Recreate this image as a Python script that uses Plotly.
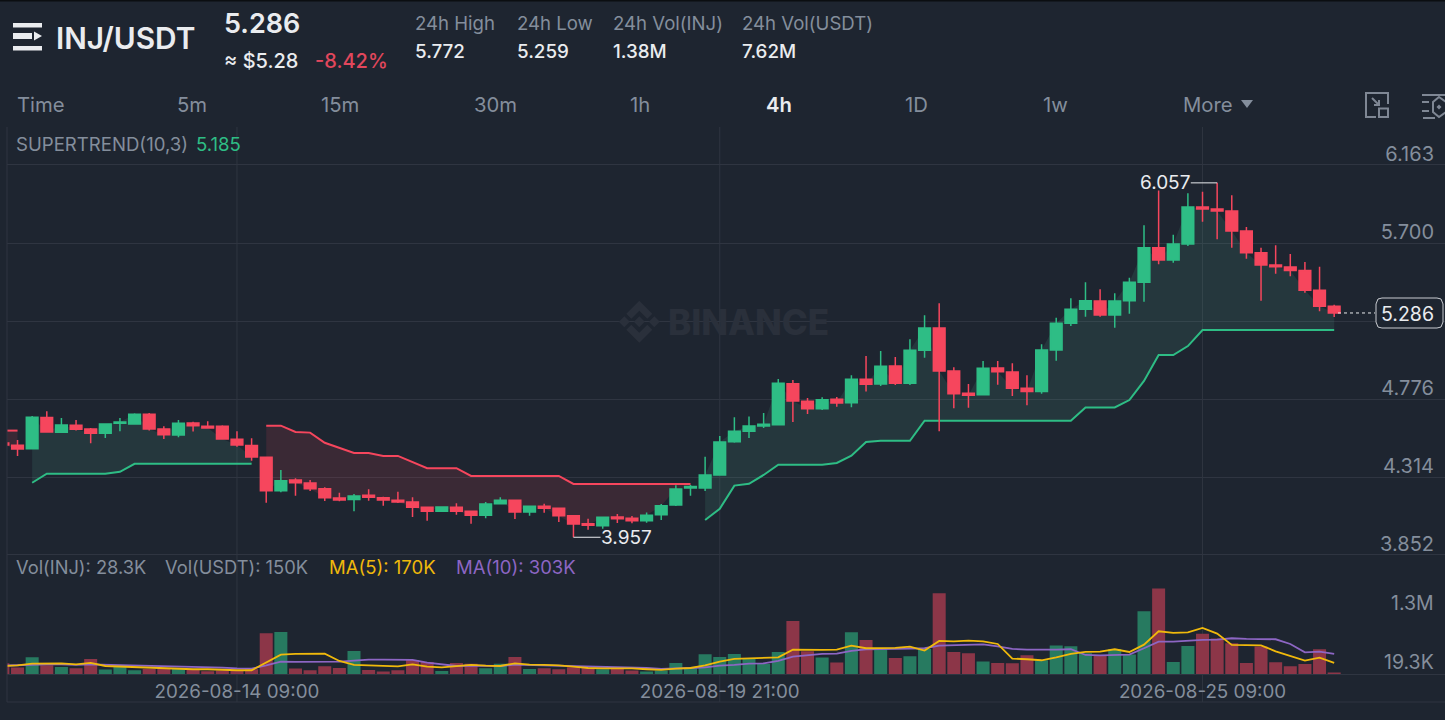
# plot.py - INJ/USDT 4h chart with supertrend and volume panes
import pandas as pd
import plotly.graph_objects as go

W, H = 1445, 720
BG = "#1e2530"
GRID = "#2f3541"
GREY = "#848e9c"
WHITE = "#eaecef"
UP = "#2ebd85"
DOWN = "#f6465d"
FONT = "Inter"

# candles, one every 4h
start = "2026-08-11 17:00"
opens = [4.515, 4.502, 4.482, 4.666, 4.579, 4.620, 4.599, 4.573, 4.632, 4.628,
         4.686, 4.599, 4.563, 4.634, 4.615, 4.615, 4.538, 4.500, 4.431, 4.233,
         4.296, 4.279, 4.245, 4.190, 4.181, 4.206, 4.191, 4.176, 4.166, 4.135,
         4.111, 4.135, 4.111, 4.087, 4.156, 4.176, 4.107, 4.140, 4.129, 4.085,
         4.037, 4.025, 4.077, 4.069, 4.055, 4.091, 4.148, 4.249, 4.249, 4.326,
         4.523, 4.585, 4.616, 4.624, 4.867, 4.763, 4.719, 4.775, 4.754, 4.893,
         4.865, 4.972, 4.869, 5.065, 5.197, 4.942, 4.810, 4.802, 4.960, 4.936,
         4.840, 4.820, 5.067, 5.225, 5.308, 5.357, 5.274, 5.359, 5.468, 5.673,
         5.600, 5.695, 5.914, 5.902, 5.890, 5.772, 5.643, 5.570, 5.558, 5.537,
         5.420, 5.326]
highs = [4.530, 4.533, 4.676, 4.703, 4.664, 4.652, 4.605, 4.632, 4.664, 4.692,
         4.693, 4.615, 4.652, 4.642, 4.644, 4.620, 4.585, 4.543, 4.431, 4.356,
         4.306, 4.296, 4.253, 4.221, 4.213, 4.241, 4.197, 4.227, 4.194, 4.138,
         4.140, 4.158, 4.114, 4.166, 4.194, 4.178, 4.142, 4.156, 4.129, 4.089,
         4.067, 4.079, 4.095, 4.083, 4.103, 4.154, 4.265, 4.267, 4.434, 4.557,
         4.668, 4.672, 4.693, 4.895, 4.889, 4.782, 4.786, 4.788, 4.917, 5.031,
         5.061, 5.025, 5.130, 5.272, 5.343, 4.964, 4.865, 5.002, 5.002, 4.988,
         4.917, 5.100, 5.258, 5.373, 5.468, 5.426, 5.403, 5.495, 5.806, 6.011,
         5.750, 5.995, 6.005, 6.057, 5.983, 5.796, 5.673, 5.687, 5.636, 5.588,
         5.560, 5.335]
lows = [4.495, 4.439, 4.482, 4.577, 4.579, 4.589, 4.514, 4.545, 4.585, 4.628,
        4.589, 4.539, 4.549, 4.583, 4.605, 4.535, 4.494, 4.411, 4.162, 4.223,
        4.203, 4.231, 4.172, 4.170, 4.111, 4.174, 4.144, 4.160, 4.077, 4.055,
        4.107, 4.091, 4.037, 4.069, 4.154, 4.065, 4.085, 4.102, 4.047, 3.957,
        4.002, 4.008, 4.041, 4.040, 4.043, 4.059, 4.142, 4.203, 4.231, 4.326,
        4.517, 4.545, 4.605, 4.624, 4.640, 4.687, 4.711, 4.731, 4.727, 4.820,
        4.853, 4.859, 4.859, 5.021, 4.585, 4.721, 4.725, 4.802, 4.861, 4.794,
        4.739, 4.808, 5.003, 5.209, 5.264, 5.264, 5.199, 5.282, 5.353, 5.575,
        5.584, 5.683, 5.827, 5.723, 5.673, 5.608, 5.359, 5.519, 5.503, 5.406,
        5.296, 5.262]
closes = [4.504, 4.480, 4.668, 4.581, 4.622, 4.597, 4.573, 4.628, 4.640, 4.686,
          4.599, 4.565, 4.632, 4.618, 4.605, 4.539, 4.504, 4.433, 4.233, 4.292,
          4.280, 4.245, 4.191, 4.178, 4.202, 4.194, 4.178, 4.166, 4.135, 4.111,
          4.136, 4.111, 4.087, 4.154, 4.176, 4.107, 4.140, 4.129, 4.085, 4.036,
          4.028, 4.075, 4.067, 4.055, 4.087, 4.144, 4.243, 4.257, 4.326, 4.521,
          4.585, 4.616, 4.626, 4.869, 4.764, 4.719, 4.772, 4.753, 4.893, 4.863,
          4.970, 4.869, 5.065, 5.197, 4.942, 4.808, 4.798, 4.958, 4.938, 4.840,
          4.820, 5.067, 5.225, 5.308, 5.359, 5.274, 5.357, 5.468, 5.673, 5.600,
          5.695, 5.914, 5.902, 5.890, 5.772, 5.643, 5.570, 5.560, 5.537, 5.420,
          5.326, 5.286]

# supertrend, N = no line on that side
N = None
st_down = [4.589, 4.589, N, N, N, N, N, N, N, N,
           N, N, N, N, N, N, N, N, 4.618, 4.618,
           4.581, 4.577, 4.517, 4.488, 4.456, 4.456, 4.439, 4.439, 4.403, 4.366,
           4.366, 4.366, 4.320, 4.320, 4.320, 4.320, 4.320, 4.320, 4.320, 4.273,
           4.273, 4.273, 4.273, 4.273, 4.273, 4.273, 4.273, 4.273, N, N,
           N, N, N, N, N, N, N, N, N, N,
           N, N, N, N, N, N, N, N, N, N,
           N, N, N, N, N, N, N, N, N, N,
           N, N, N, N, N, N, N, N, N, N,
           N, N]
st_up = [N, N, 4.280, 4.334, 4.334, 4.334, 4.334, 4.334, 4.345, 4.392,
         4.392, 4.392, 4.392, 4.392, 4.392, 4.392, 4.392, 4.392, N, N,
         N, N, N, N, N, N, N, N, N, N,
         N, N, N, N, N, N, N, N, N, N,
         N, N, N, N, N, N, N, N, 4.059, 4.125,
         4.263, 4.274, 4.326, 4.387, 4.387, 4.387, 4.387, 4.397, 4.440, 4.521,
         4.529, 4.529, 4.529, 4.648, 4.648, 4.648, 4.648, 4.648, 4.648, 4.648,
         4.648, 4.648, 4.648, 4.648, 4.726, 4.726, 4.726, 4.770, 4.883, 5.037,
         5.037, 5.090, 5.185, 5.185, 5.185, 5.185, 5.185, 5.185, 5.185, 5.185,
         5.185, 5.185]

# volume pane, in thousands of INJ
volume = [164, 100, 253, 134, 109, 89, 228, 70, 109, 60,
          79, 89, 79, 64, 45, 55, 49, 75, 611, 630,
          85, 60, 119, 94, 347, 64, 40, 60, 213, 183,
          49, 168, 159, 89, 159, 258, 79, 89, 75, 104,
          89, 75, 85, 55, 40, 55, 168, 94, 298, 258,
          302, 228, 153, 332, 794, 343, 249, 174, 626, 511,
          387, 243, 268, 377, 1207, 332, 313, 189, 168, 164,
          283, 209, 428, 417, 313, 283, 377, 294, 939, 1277,
          183, 422, 606, 532, 462, 168, 413, 179, 119, 153,
          373, 28.3]
ma5 = [124, 134, 159, 164, 164, 149, 169, 124, 114, 104,
       99, 84, 84, 75, 75, 65, 60, 60, 174, 293,
       303, 303, 308, 199, 139, 134, 124, 119, 149, 114,
       104, 124, 139, 129, 124, 164, 144, 139, 134, 114,
       94, 89, 94, 89, 75, 65, 84, 94, 134, 189,
       229, 239, 244, 253, 368, 363, 363, 368, 427, 388,
       388, 393, 413, 353, 497, 492, 502, 492, 452, 234,
       224, 209, 253, 303, 333, 338, 373, 333, 442, 641,
       616, 626, 691, 606, 437, 437, 432, 343, 268, 204,
       249, 170]
ma10 = [129, 139, 149, 149, 149, 139, 149, 144, 144, 139,
        134, 124, 114, 109, 104, 99, 89, 84, 134, 189,
        184, 184, 184, 189, 204, 219, 219, 219, 214, 174,
        154, 124, 129, 129, 124, 144, 139, 139, 134, 124,
        124, 119, 114, 109, 94, 80, 84, 94, 104, 129,
        139, 159, 164, 199, 263, 288, 303, 308, 348, 373,
        378, 383, 388, 388, 427, 437, 447, 447, 417, 378,
        368, 363, 368, 373, 288, 283, 288, 293, 388, 487,
        487, 502, 512, 517, 537, 527, 527, 522, 452, 328,
        338, 303]

price_ticks = [6.163, 5.700, 5.238, 4.776, 4.314, 3.852]
# 5.238 sits behind the last price tag in the original
price_labels = ["6.163", "5.700", "", "4.776", "4.314", "3.852"]
date_ticks = ["2026-08-14 09:00", "2026-08-19 21:00", "2026-08-25 09:00"]
tabs = ["Time", "5m", "15m", "30m", "1h", "4h", "1D", "1w", "More"]
tab_x = [17, 177, 321, 474, 630, 766, 905, 1043, 1183]
stats = [("24h High", "5.772", 415), ("24h Low", "5.259", 517),
         ("24h Vol(INJ)", "1.38M", 613), ("24h Vol(USDT)", "7.62M", 742)]

times = pd.date_range(start, periods=len(closes), freq="4h")
x_range = [times[0] + pd.Timedelta(hours=1.12), times[0] + pd.Timedelta(hours=394.3)]
price_range = [3.8222, 6.388]
vol_range = [0, 1703000]


# pixel helpers for the page furniture
def px(x):
    return x / W


def py(y):
    return 1 - y / H


def text(fig, x, y, s, size=18, color=WHITE, weight=400, anchor="left"):
    fig.add_annotation(xref="paper", yref="paper", x=px(x), y=py(y), text=s, showarrow=False,
                       xanchor=anchor, yanchor="middle", borderpad=0, borderwidth=0,
                       font=dict(family=FONT, size=size, color=color, weight=weight))


def line(fig, x0, y0, x1, y1, color=GRID, width=1, dash="solid"):
    fig.add_shape(type="line", xref="paper", yref="paper", x0=px(x0), y0=py(y0), x1=px(x1), y1=py(y1),
                  line=dict(color=color, width=width, dash=dash), layer="above")


def poly(fig, pts, fill=None, color=None, width=0, close=True):
    d = "M " + " L ".join(f"{px(a):.5f},{py(b):.5f}" for a, b in pts) + (" Z" if close else "")
    fig.add_shape(type="path", xref="paper", yref="paper", path=d, fillcolor=fill,
                  line=dict(color=color, width=width), layer="above")


def segments(values):
    # runs of consecutive non-empty points
    runs, begin = [], None
    for i, v in enumerate(values + [None]):
        if v is not None and begin is None:
            begin = i
        if v is None and begin is not None:
            runs.append((begin, i))
            begin = None
    return runs


fig = go.Figure()

# supertrend bands, filled up to the close
for series, col, fill in [(st_up, UP, "rgba(90,190,160,0.12)"), (st_down, DOWN, "rgba(246,70,93,0.13)")]:
    for a, b in segments(series):
        fig.add_trace(go.Scatter(x=times[a:b], y=closes[a:b], mode="lines", line=dict(width=0),
                                 xaxis="x", yaxis="y", hoverinfo="skip"))
        fig.add_trace(go.Scatter(x=times[a:b], y=series[a:b], mode="lines", fill="tonexty", fillcolor=fill,
                                 line=dict(color=col, width=2), xaxis="x", yaxis="y"))

# candles sit on an overlay axis so they stay on top of the bands
fig.add_trace(go.Candlestick(x=times, open=opens, high=highs, low=lows, close=closes,
                             increasing=dict(line=dict(color=UP, width=1.5), fillcolor=UP),
                             decreasing=dict(line=dict(color=DOWN, width=1.5), fillcolor=DOWN),
                             whiskerwidth=0, xaxis="x", yaxis="y3"))

# volume
vol_colors = ["#277a60" if c >= o else "#8c3648" for o, c in zip(opens, closes)]
fig.add_trace(go.Bar(x=times, y=[v * 1000 for v in volume], marker=dict(color=vol_colors, line_width=0),
                     xaxis="x2", yaxis="y2"))
fig.add_trace(go.Scatter(x=times, y=[v * 1000 for v in ma10], mode="lines",
                         line=dict(color="#8d66c4", width=1.8), xaxis="x2", yaxis="y2"))
fig.add_trace(go.Scatter(x=times, y=[v * 1000 for v in ma5], mode="lines",
                         line=dict(color="#f0b90b", width=1.8), xaxis="x2", yaxis="y2"))

fig.update_layout(
    width=W, height=H, paper_bgcolor=BG, plot_bgcolor=BG, showlegend=False,
    margin=dict(l=0, r=0, t=0, b=0), boxgap=0, boxgroupgap=0.2, bargap=0.11,
    font=dict(family=FONT, color=GREY, size=18),
    xaxis=dict(domain=[px(7), 1], anchor="y", range=x_range, showticklabels=False, showgrid=False,
               zeroline=False, rangeslider=dict(visible=False), type="date"),
    xaxis2=dict(domain=[px(7), 1], anchor="y2", matches="x", type="date", tickvals=date_ticks,
                tickformat="%Y-%m-%d %H:%M", showgrid=False, zeroline=False, ticks="", showline=True,
                linecolor=GRID, linewidth=1, tickfont=dict(size=18.8, color=GREY)),
    yaxis=dict(domain=[py(560), py(127)], anchor="x", side="right", range=price_range, tickmode="array",
               tickvals=price_ticks, ticktext=price_labels, ticklabelposition="inside top",
               ticklabelstandoff=8, ticklabelshift=3, gridcolor=GRID, gridwidth=1, zeroline=False, ticks="",
               tickfont=dict(size=20, color=GREY)),
    yaxis3=dict(anchor="x", overlaying="y", side="right", range=price_range, visible=False),
    yaxis2=dict(domain=[py(674.3), py(560)], anchor="x2", side="right", range=vol_range,
                showticklabels=False, showgrid=False, zeroline=False, ticks=""),
)

# panel frame and vertical grid lines through both panes
line(fig, 7, 127, 7, 702)
line(fig, 7, 702, W, 702)
for d in date_ticks:
    fig.add_shape(type="line", xref="x", yref="paper", x0=d, x1=d, y0=py(702), y1=py(127),
                  line=dict(color=GRID, width=1), layer="below")
fig.add_shape(type="rect", xref="paper", yref="paper", x0=0, x1=1, y0=py(1.5), y1=1,
              fillcolor="#0b0e11", line_width=0, layer="above")

# watermark
wm = "#2a303b"
cx, cy = 639.3, 321.7
for s in (1, -1):
    poly(fig, [(cx, cy - s * 21), (cx + 13, cy - s * 8), (cx + 8, cy - s * 3), (cx, cy - s * 11),
               (cx - 8, cy - s * 3), (cx - 13, cy - s * 8)], fill=wm)
for dx, r in [(0, 5.5), (-15, 5.5), (15, 5.5)]:
    poly(fig, [(cx + dx - r, cy), (cx + dx, cy - r), (cx + dx + r, cy), (cx + dx, cy + r)], fill=wm)
text(fig, 668, 322, "BINANCE", size=35, color=wm, weight=800)

# header
poly(fig, [(13, 23), (42, 23), (42, 27.5), (13, 27.5)], fill=WHITE)
poly(fig, [(13, 33), (32, 33), (32, 39), (13, 39)], fill=WHITE)
poly(fig, [(34, 31.5), (42, 36), (34, 40.5)], fill=WHITE)
poly(fig, [(13, 46), (42, 46), (42, 50.5), (13, 50.5)], fill=WHITE)
text(fig, 56, 38, "INJ/USDT", size=29.8, weight=600)
text(fig, 224, 24, "5.286", size=27, weight=600)
text(fig, 224, 61, "≈ $5.28", size=20, weight=500)
text(fig, 315, 61, "-8.42%", size=20, color="#e2475c", weight=500)
for label, value, x in stats:
    text(fig, x, 23, label, size=18.6, color=GREY)
    text(fig, x, 52, value, size=18.8, weight=500)

# interval tabs
for label, x in zip(tabs, tab_x):
    active = label == "4h"
    text(fig, x, 104.5, label, size=20.3, color=WHITE if active else GREY, weight=600 if active else 400)
poly(fig, [(1241, 100), (1253, 100), (1247, 108)], fill=GREY)

# toolbar icons
ic = "#7f8794"
poly(fig, [(1376, 117), (1366, 117), (1366, 93), (1388, 93), (1388, 104)], color=ic, width=2, close=False)
poly(fig, [(1379, 108.5), (1388, 108.5), (1388, 117), (1379, 117)], color=ic, width=2)
poly(fig, [(1372, 98), (1379, 105)], color=ic, width=2, close=False)
poly(fig, [(1379, 100), (1379, 105), (1374, 105)], color=ic, width=2, close=False)
line(fig, 1422, 95, 1445, 95, color=ic, width=2)
line(fig, 1422, 102, 1429, 102, color=ic, width=2)
line(fig, 1422, 111, 1429, 111, color=ic, width=2)
line(fig, 1423, 118, 1435, 118, color=ic, width=2)
poly(fig, [(1439, 97), (1446, 102), (1446, 112), (1439, 117), (1433, 112), (1433, 102)], color=ic, width=2)
poly(fig, [(1436.5, 107), (1439, 104.5), (1441.5, 107), (1439, 109.5)], fill=ic)

# pane captions
text(fig, 16, 144, "SUPERTREND(10,3)", size=18.6, color=GREY)
text(fig, 196, 144, "5.185", size=18.6, color=UP)
text(fig, 16, 567, "Vol(INJ): 28.3K", size=18.3, color=GREY)
text(fig, 165, 567, "Vol(USDT): 150K", size=18.3, color=GREY)
text(fig, 329, 567, "MA(5): 170K", size=18.5, color="#f0b90b")
text(fig, 456, 567, "MA(10): 303K", size=18.5, color="#8d66c4")
text(fig, 1434, 603, "1.3M", size=19.5, color=GREY, anchor="right")
text(fig, 1434, 662, "19.3K", size=19.5, color=GREY, anchor="right")

# high / low markers
hi = highs.index(max(highs))
lo = lows.index(min(lows))
for i, value, off in [(hi, highs[hi], -7.2), (lo, lows[lo], 7.4)]:
    fig.add_shape(type="line", xref="x", yref="y", x0=times[i], x1=times[i] + pd.Timedelta(hours=off),
                  y0=value, y1=value, line=dict(color=WHITE, width=1), layer="above")
fig.add_annotation(xref="x", yref="y", x=times[hi], y=highs[hi], xshift=-52, text=f"{highs[hi]:.3f}",
                   showarrow=False, font=dict(size=19, color=WHITE))
fig.add_annotation(xref="x", yref="y", x=times[lo], y=lows[lo], xshift=53, text=f"{lows[lo]:.3f}",
                   showarrow=False, font=dict(size=19, color=WHITE))

# last price tag
fig.add_shape(type="line", xref="paper", yref="y", x0=px(1338), x1=px(1375), y0=closes[-1], y1=closes[-1],
              line=dict(color=WHITE, width=1, dash="3px,3px"), layer="above")
r = 6
corners = [(1376 + r, 298), (1443 - r, 298), (1441, 299), (1443, 298 + r), (1443, 328 - r), (1441, 327),
           (1443 - r, 328), (1376 + r, 328), (1378, 327), (1376, 328 - r), (1376, 298 + r), (1378, 299)]
poly(fig, corners, fill=BG, color="#c9ccd1", width=1)
text(fig, 1434, 313.5, "5.286", size=19.5, color=WHITE, anchor="right")

fig.write_html("out.html", config={"displayModeBar": False},
               post_script="document.body.style.margin='0';document.body.style.overflow='hidden';")
